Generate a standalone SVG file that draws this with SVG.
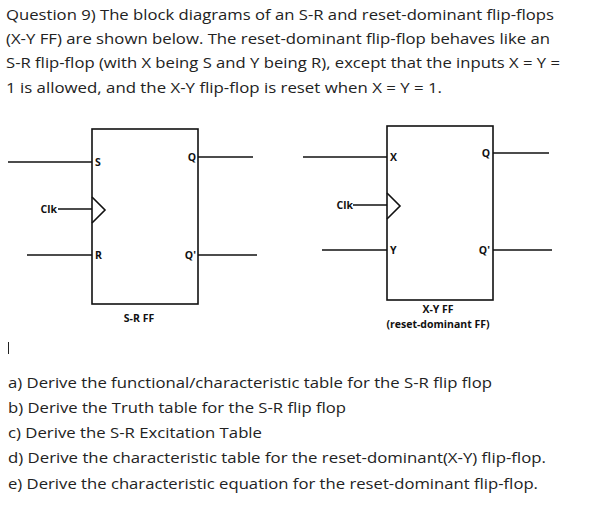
<svg xmlns="http://www.w3.org/2000/svg" width="602" height="512" viewBox="0 0 602 512">
<style>
.t{font-family:"Open Sans","Liberation Sans",sans-serif;font-size:15px;fill:#222}
.l{font-family:"Open Sans","Liberation Sans",sans-serif;font-size:10.5px;font-weight:bold;fill:#111}
.w{stroke:#111;stroke-width:1.6;fill:none}
.b{stroke:#111;stroke-width:1.6;fill:#fff}
</style>
<rect width="602" height="512" fill="#fff"/>
<g id="question">
<text class="t" x="6" y="20" textLength="548" lengthAdjust="spacingAndGlyphs">Question 9) The block diagrams of an S-R and reset-dominant flip-flops</text>
<text class="t" x="6" y="44" textLength="544" lengthAdjust="spacingAndGlyphs">(X-Y FF) are shown below. The reset-dominant flip-flop behaves like an</text>
<text class="t" x="6" y="68" textLength="554" lengthAdjust="spacingAndGlyphs">S-R flip-flop (with X being S and Y being R), except that the inputs X = Y =</text>
<text class="t" x="6" y="93" textLength="436" lengthAdjust="spacingAndGlyphs">1 is allowed, and the X-Y flip-flop is reset when X = Y = 1.</text>
</g>
<g id="srff">
<rect class="b" x="92" y="129" width="106" height="175"/>
<polyline class="w" points="92,197 105,210 92,223"/>
<text class="l" x="95" y="166">S</text>
<text class="l" x="95" y="259">R</text>
<text class="l" x="196" y="161" text-anchor="end">Q</text>
<text class="l" x="196" y="259" text-anchor="end">Q'</text>
<text class="l" x="57" y="213" text-anchor="end">Clk</text>
<text class="l" x="139" y="322" text-anchor="middle">S-R FF</text>
</g>
<g id="xyff">
<rect class="b" x="387" y="126" width="106" height="174"/>
<polyline class="w" points="387,193 400,206 387,219"/>
<text class="l" x="390" y="161">X</text>
<text class="l" x="390" y="254">Y</text>
<text class="l" x="490" y="157" text-anchor="end">Q</text>
<text class="l" x="490" y="254" text-anchor="end">Q'</text>
<text class="l" x="353" y="209" text-anchor="end">Clk</text>
<text class="l" x="438" y="313" text-anchor="middle">X-Y FF</text>
<text class="l" x="438" y="328" text-anchor="middle">(reset-dominant FF)</text>
</g>
<g id="connectors">
<line class="w" x1="8" y1="162" x2="92" y2="162"/>
<line class="w" x1="58" y1="209" x2="92" y2="209"/>
<line class="w" x1="27" y1="255" x2="92" y2="255"/>
<line class="w" x1="198" y1="157" x2="253" y2="157"/>
<line class="w" x1="198" y1="255" x2="257" y2="255"/>
<line class="w" x1="303" y1="157" x2="387" y2="157"/>
<line class="w" x1="353" y1="205" x2="387" y2="205"/>
<line class="w" x1="322" y1="250" x2="387" y2="250"/>
<line class="w" x1="493" y1="153" x2="549" y2="153"/>
<line class="w" x1="493" y1="250" x2="552" y2="250"/>
</g>
<line x1="8.5" y1="342" x2="8.5" y2="354" stroke="#222" stroke-width="1"/>
<g id="tasks">
<text class="t" x="8" y="388" textLength="484" lengthAdjust="spacingAndGlyphs">a) Derive the functional/characteristic table for the S-R flip flop</text>
<text class="t" x="8" y="413" textLength="338" lengthAdjust="spacingAndGlyphs">b) Derive the Truth table for the S-R flip flop</text>
<text class="t" x="8" y="438" textLength="254" lengthAdjust="spacingAndGlyphs">c) Derive the S-R Excitation Table</text>
<text class="t" x="8" y="463" textLength="538" lengthAdjust="spacingAndGlyphs">d) Derive the characteristic table for the reset-dominant(X-Y) flip-flop.</text>
<text class="t" x="8" y="489" textLength="530" lengthAdjust="spacingAndGlyphs">e) Derive the characteristic equation for the reset-dominant flip-flop.</text>
</g>
</svg>
